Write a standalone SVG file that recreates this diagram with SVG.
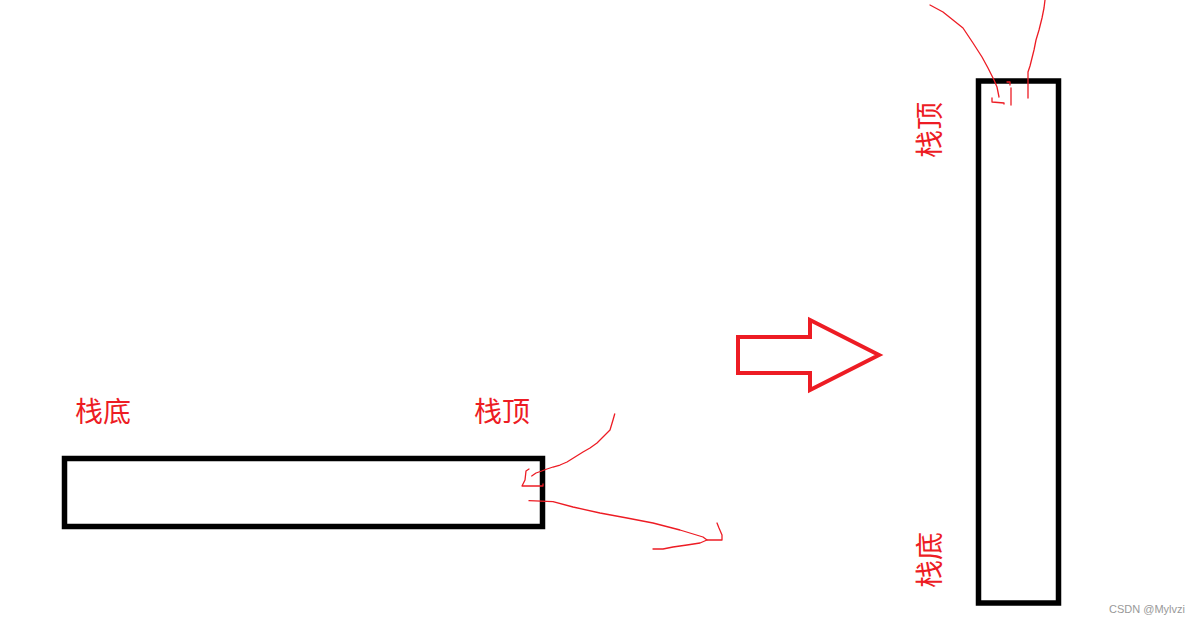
<svg xmlns="http://www.w3.org/2000/svg" width="1198" height="625" viewBox="0 0 1198 625">
<style>
.box{fill:none;stroke:#000;stroke-width:5.5}
.lbl{font-family:"Noto Sans CJK SC","Noto Sans CJK TC",sans-serif;font-size:28px;fill:#ED1C24}
.scr{fill:none;stroke:#ED1C24;stroke-width:1.3;stroke-linejoin:round;stroke-linecap:round}
.wm{font-family:"Liberation Sans",Arial,sans-serif;font-size:11px;fill:#999}
</style>
<rect width="1198" height="625" fill="#fff"/>
<g id="stack-horizontal">
<rect class="box" x="64.5" y="458.5" width="478" height="68"/>
<text class="lbl" x="75" y="422">栈底</text>
<text class="lbl" x="474" y="422">栈顶</text>
</g>
<g id="arrow">
<polygon points="738,337 810,337 810,320 879,355 810,390 810,373 738,373" fill="none" stroke="#ED1C24" stroke-width="4" stroke-linejoin="miter"/>
</g>
<g id="stack-vertical">
<rect class="box" x="978.5" y="81" width="80" height="522"/>
<text class="lbl" transform="translate(940,158) rotate(-90)">栈顶</text>
<text class="lbl" transform="translate(940,588) rotate(-90)">栈底</text>
</g>
<g id="scribbles">
<path class="scr" d="M614.7,414 L613,420 610,430 603,437 597,443 590,448 583,452 575,457 567,462 560,465 553,467 547,469 541.7,471 536,473 531.7,476"/>
<path class="scr" d="M529,469 L526,471 525,480 522,486 543,486 543,484"/>
<path class="scr" d="M529,500.7 L553,501.7 573,507 600,513 627,518 653,523 680,530 703,537 707,540 722,540 722,535 719,528 717,523"/>
<path class="scr" d="M707,540 L700,543 687,545 673,547 663,549 653,549"/>
<path class="scr" d="M930,5 L943,12 953,20 963,28 973,43 982,57 988,68 994,80 997,87 999,97"/>
<path class="scr" d="M992,98 L992,102 1004,103 1004,104"/>
<path class="scr" d="M1007,82 L1010,82 1010,85"/>
<path class="scr" d="M1011,88 L1011,105" stroke-width="2"/>
<path class="scr" d="M1045,0 L1044,8 1042,18 1039,30 1036,40 1034,50 1032,58 1030,66 1028,72 1028,98" stroke-width="1.6"/>
</g>
<text class="wm" x="1109" y="613">CSDN @Mylvzi</text>
</svg>
